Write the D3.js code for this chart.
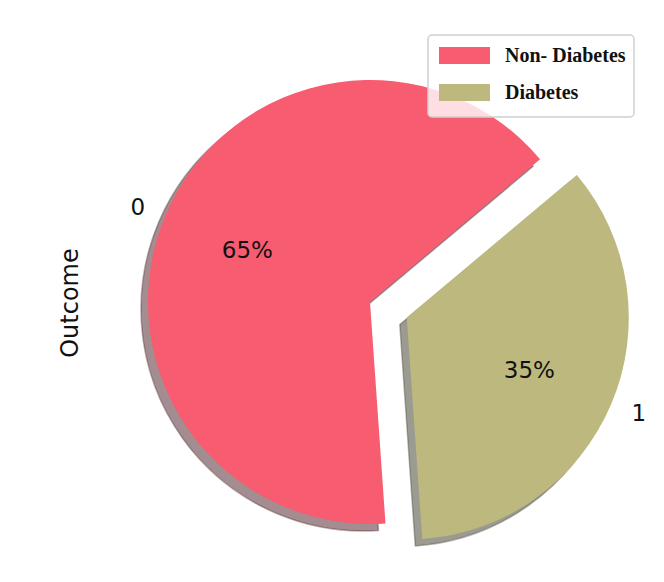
<!DOCTYPE html>
<html>
<head>
<meta charset="utf-8">
<script src="https://cdn.jsdelivr.net/npm/d3@7"></script>
<style>
  body { margin: 0; background: #fff; }
  svg { display: block; }
</style>
</head>
<body>
<div id="chart"></div>
<script>
const categories = ["0", "1"]
const legendLabels = ["Non- Diabetes", "Diabetes"]
const values = [65, 35]
const explode = [0, 0.18]
const palette = ["#f75c70", "#bcb87e"]

const width = 664
const height = 582
const radius = 222
const cx = 370, cy = 302
const deg = Math.PI / 180

const svg = d3.select("#chart").append("svg")
  .attr("width", width)
  .attr("height", height)

// matplotlib style: counter-clockwise, first wedge starting at 40deg
const pie = d3.pie()
  .sort(null)
  .value(d => d.value)
  .startAngle(50 * deg)
  .endAngle(50 * deg - 2 * Math.PI)

const data = categories.map((c, i) => ({ cat: c, value: values[i], i: i }))
const arcs = pie(data)

const arc = d3.arc().innerRadius(0).outerRadius(radius)

function offset(d) {
  const mid = (d.startAngle + d.endAngle) / 2
  const e = explode[d.data.i] * radius
  return [cx + e * Math.sin(mid), cy - e * Math.cos(mid)]
}

function shade(c) {
  const col = d3.rgb(c)
  return d3.rgb(col.r * 0.3, col.g * 0.3, col.b * 0.3).formatHex()
}

// shadows
svg.append("g").selectAll("path")
  .data(arcs)
  .join("path")
  .attr("transform", d => {
    const o = offset(d)
    return "translate(" + (o[0] - 7) + "," + (o[1] + 7) + ")"
  })
  .attr("d", arc)
  .attr("fill", d => shade(palette[d.data.i]))
  .attr("fill-opacity", 0.5)
  .attr("stroke", d => shade(palette[d.data.i]))
  .attr("stroke-opacity", 0.35)
  .attr("stroke-width", 1.5)

const wedges = svg.append("g").selectAll("g")
  .data(arcs)
  .join("g")
  .attr("transform", d => "translate(" + offset(d) + ")")

wedges.append("path")
  .attr("d", arc)
  .attr("fill", d => palette[d.data.i])

// percentage labels
wedges.append("text")
  .attr("transform", d => {
    const mid = (d.startAngle + d.endAngle) / 2
    const r = 0.6 * radius
    return "translate(" + (r * Math.sin(mid)) + "," + (-r * Math.cos(mid)) + ")"
  })
  .attr("dy", "0.36em")
  .attr("text-anchor", "middle")
  .style("font-family", "DejaVu Sans")
  .style("font-size", "23px")
  .attr("fill", "#111")
  .text(d => Math.round(d.value / d3.sum(values) * 100) + "%")

// category labels
wedges.append("text")
  .attr("transform", d => {
    const mid = (d.startAngle + d.endAngle) / 2
    const r = 1.1 * radius
    return "translate(" + (r * Math.sin(mid)) + "," + (-r * Math.cos(mid)) + ")"
  })
  .attr("dy", "0.36em")
  .attr("text-anchor", d => Math.sin((d.startAngle + d.endAngle) / 2) > 0 ? "start" : "end")
  .style("font-family", "DejaVu Sans")
  .style("font-size", "23px")
  .attr("fill", "#111")
  .text(d => d.data.cat)

// y label
svg.append("text")
  .attr("transform", "translate(78,303) rotate(-90)")
  .attr("text-anchor", "middle")
  .style("font-family", "DejaVu Sans")
  .style("font-size", "24px")
  .attr("fill", "#111")
  .text("Outcome")

// legend
const legend = svg.append("g").attr("transform", "translate(428,35)")
legend.append("rect")
  .attr("width", 206)
  .attr("height", 82)
  .attr("rx", 4)
  .attr("fill", "#fff")
  .attr("fill-opacity", 0.8)
  .attr("stroke", "#d0d0d0")
  .attr("stroke-width", 1.5)

const item = legend.selectAll(".item")
  .data(legendLabels)
  .join("g")
  .attr("class", "item")
  .attr("transform", (d, i) => "translate(0," + (i * 37) + ")")

item.append("rect")
  .attr("x", 11)
  .attr("y", 12)
  .attr("width", 51)
  .attr("height", 17)
  .attr("fill", (d, i) => palette[i])

item.append("text")
  .attr("x", 77)
  .attr("y", 27)
  .style("font-family", "Liberation Serif")
  .style("font-weight", "bold")
  .style("font-size", "20px")
  .attr("fill", "#111")
  .text(d => d)
</script>
</body>
</html>
